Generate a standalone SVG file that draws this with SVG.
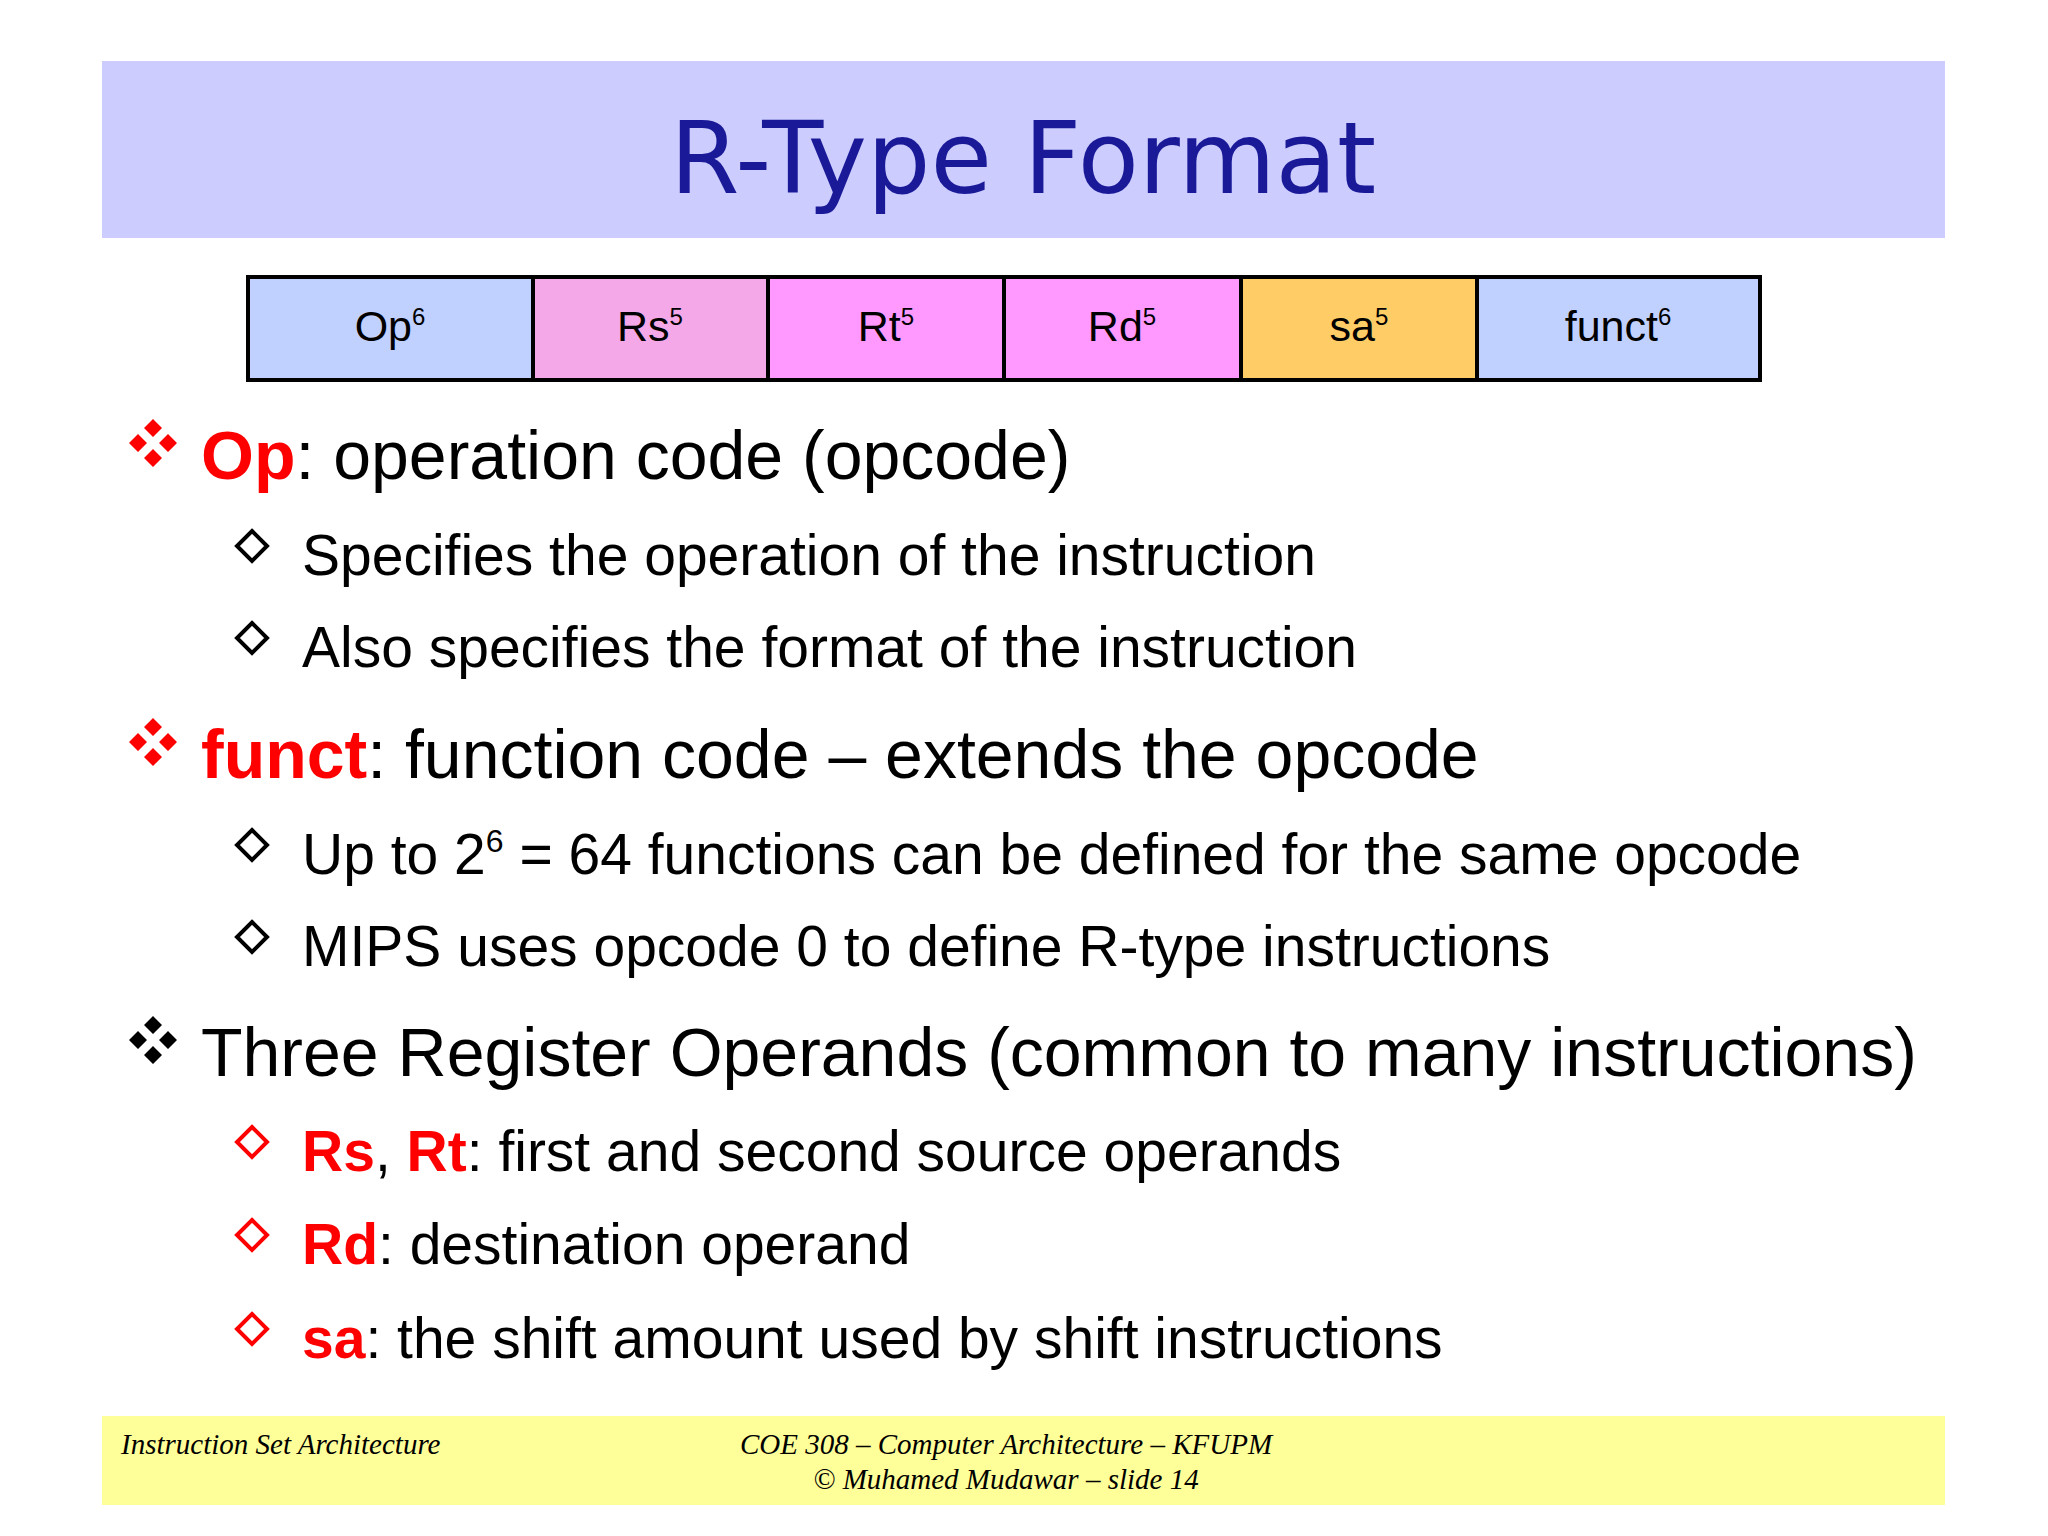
<svg xmlns="http://www.w3.org/2000/svg" width="2048" height="1536" viewBox="0 0 2048 1536">
<style>
.c{fill:none;stroke:#000;stroke-width:4}
.f{font-family:"Liberation Sans",Arial,sans-serif;font-size:43px;text-anchor:middle}
.l1{font-family:"Liberation Sans",Arial,sans-serif;font-size:68px}
.l2{font-family:"Liberation Sans",Arial,sans-serif;font-size:57px}
.r{fill:#f00;font-weight:bold}
.ft{font-family:"Liberation Serif","Times New Roman",serif;font-style:italic;font-size:29px}
.d2{fill:none;stroke:#000;stroke-width:4}
.d2r{fill:none;stroke:#f00;stroke-width:4}
</style>
<defs>
<g id="b4"><path d="M0,-9L9,0L0,9L-9,0Z M-15,6L-6,15L-15,24L-24,15Z M15,6L24,15L15,24L6,15Z M0,21L9,30L0,39L-9,30Z"/></g>
<path id="dd" d="M0,-15L15,0L0,15L-15,0Z"/>
</defs>
<rect width="2048" height="1536" fill="#fff"/>
<rect x="102" y="61" width="1843" height="177" fill="#ccccff"/>
<text x="1023" y="193" font-family="'Comic Sans MS','DejaVu Sans',sans-serif" font-size="100" fill="#1a1a99" text-anchor="middle">R-Type Format</text>
<g id="fields">
<rect x="248" y="277" width="285" height="103" fill="#c0d0ff"/>
<rect x="533" y="277" width="235" height="103" fill="#f4a8e8"/>
<rect x="768" y="277" width="236" height="103" fill="#ff99ff"/>
<rect x="1004" y="277" width="237" height="103" fill="#ff99ff"/>
<rect x="1241" y="277" width="236" height="103" fill="#ffcc66"/>
<rect x="1477" y="277" width="283" height="103" fill="#c0d0ff"/>
<rect x="248" y="277" width="1512" height="103" class="c"/>
<path d="M533,277V380M768,277V380M1004,277V380M1241,277V380M1477,277V380" class="c"/>
<text class="f" x="390" y="341">Op<tspan font-size="24" dy="-16">6</tspan></text>
<text class="f" x="650" y="341">Rs<tspan font-size="24" dy="-16">5</tspan></text>
<text class="f" x="886" y="341">Rt<tspan font-size="24" dy="-16">5</tspan></text>
<text class="f" x="1122" y="341">Rd<tspan font-size="24" dy="-16">5</tspan></text>
<text class="f" x="1359" y="341">sa<tspan font-size="24" dy="-16">5</tspan></text>
<text class="f" x="1618" y="341">funct<tspan font-size="24" dy="-16">6</tspan></text>
</g>
<g id="bullets">
<use href="#b4" x="153" y="428" fill="#f00"/>
<text class="l1" x="201" y="479"><tspan class="r">Op</tspan>: operation code (opcode)</text>
<use href="#dd" x="252" y="546" class="d2"/>
<text class="l2" x="302" y="575">Specifies the operation of the instruction</text>
<use href="#dd" x="252" y="638" class="d2"/>
<text class="l2" x="302" y="667">Also specifies the format of the instruction</text>
<use href="#b4" x="153" y="727" fill="#f00"/>
<text class="l1" x="201" y="778"><tspan class="r">funct</tspan>: function code – extends the opcode</text>
<use href="#dd" x="252" y="845" class="d2"/>
<text class="l2" x="302" y="874">Up to 2<tspan font-size="32" dy="-22">6</tspan><tspan dy="22"> = 64 functions can be defined for the same opcode</tspan></text>
<use href="#dd" x="252" y="937" class="d2"/>
<text class="l2" x="302" y="966">MIPS uses opcode 0 to define R-type instructions</text>
<use href="#b4" x="153" y="1025" fill="#000"/>
<text class="l1" x="201" y="1076">Three Register Operands (common to many instructions)</text>
<use href="#dd" x="252" y="1142" class="d2r"/>
<text class="l2" x="302" y="1171"><tspan class="r">Rs</tspan>, <tspan class="r">Rt</tspan>: first and second source operands</text>
<use href="#dd" x="252" y="1235" class="d2r"/>
<text class="l2" x="302" y="1264"><tspan class="r">Rd</tspan>: destination operand</text>
<use href="#dd" x="252" y="1329" class="d2r"/>
<text class="l2" x="302" y="1358"><tspan class="r">sa</tspan>: the shift amount used by shift instructions</text>
</g>
<g id="footer">
<rect x="102" y="1416" width="1843" height="89" fill="#ffff99"/>
<text class="ft" x="121" y="1454">Instruction Set Architecture</text>
<text class="ft" x="1006" y="1454" text-anchor="middle">COE 308 – Computer Architecture – KFUPM</text>
<text class="ft" x="1006" y="1489" text-anchor="middle">© Muhamed Mudawar – slide 14</text>
</g>
</svg>
